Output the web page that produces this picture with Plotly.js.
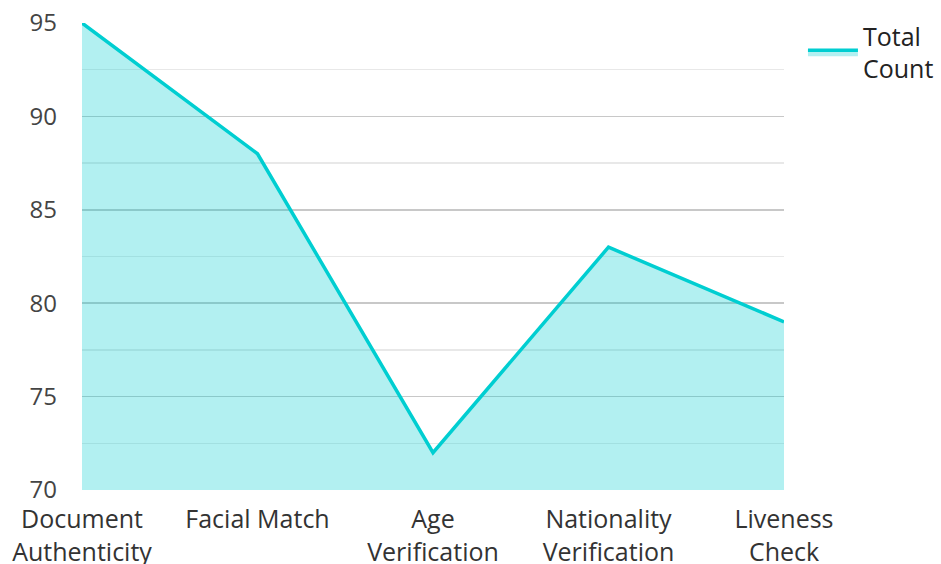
<!DOCTYPE html>
<html><head><meta charset="utf-8">
<script src="https://cdn.plot.ly/plotly-3.0.1.min.js"></script>
<style>html,body{margin:0;padding:0;background:#fff;}#chart{width:941px;height:564px;}</style>
</head><body><div id="chart"></div>
<script>
var categories = ["Document<br>Authenticity", "Facial Match", "Age<br>Verification", "Nationality<br>Verification", "Liveness<br>Check"];
var totalCount = [95, 88, 72, 83, 79];
var seriesName = "Total<br>Count";

var trace = {
  x: categories,
  y: totalCount,
  type: "scatter",
  mode: "lines",
  name: seriesName,
  fill: "tozeroy",
  fillcolor: "rgba(0,206,209,0.3)",
  line: {color: "#00CED1", width: 3.5}
};
var layout = {
  width: 941, height: 564,
  margin: {l: 82, r: 157, t: 23, b: 74, autoexpand: false},
  paper_bgcolor: "#fff", plot_bgcolor: "#fff",
  font: {family: "Open Sans, Noto Sans, sans-serif", size: 25, color: "#444"},
  showlegend: true,
  legend: {x: 1.027, y: 1.021, xanchor: "left", yanchor: "top", itemwidth: 50, font: {size: 25, color: "#222"}},
  xaxis: {type: "category", range: [0, 4], showgrid: false, zeroline: false, showline: false, ticks: "", ticklabelstandoff: 12, tickfont: {size: 25, color: "#333"}, fixedrange: true},
  yaxis: {range: [70, 95], dtick: 5, tick0: 70, showgrid: true, gridcolor: "#c8c8c8", gridwidth: 1.5, zeroline: false, showline: false, ticks: "", ticklabelstandoff: 24, tickfont: {size: 24, color: "#444"},
    minor: {dtick: 2.5, tick0: 70, showgrid: true, gridcolor: "#e8e8e8", gridwidth: 1.5}}
};
Plotly.newPlot("chart", [trace], layout, {displayModeBar: false, staticPlot: true});
</script></body></html>
